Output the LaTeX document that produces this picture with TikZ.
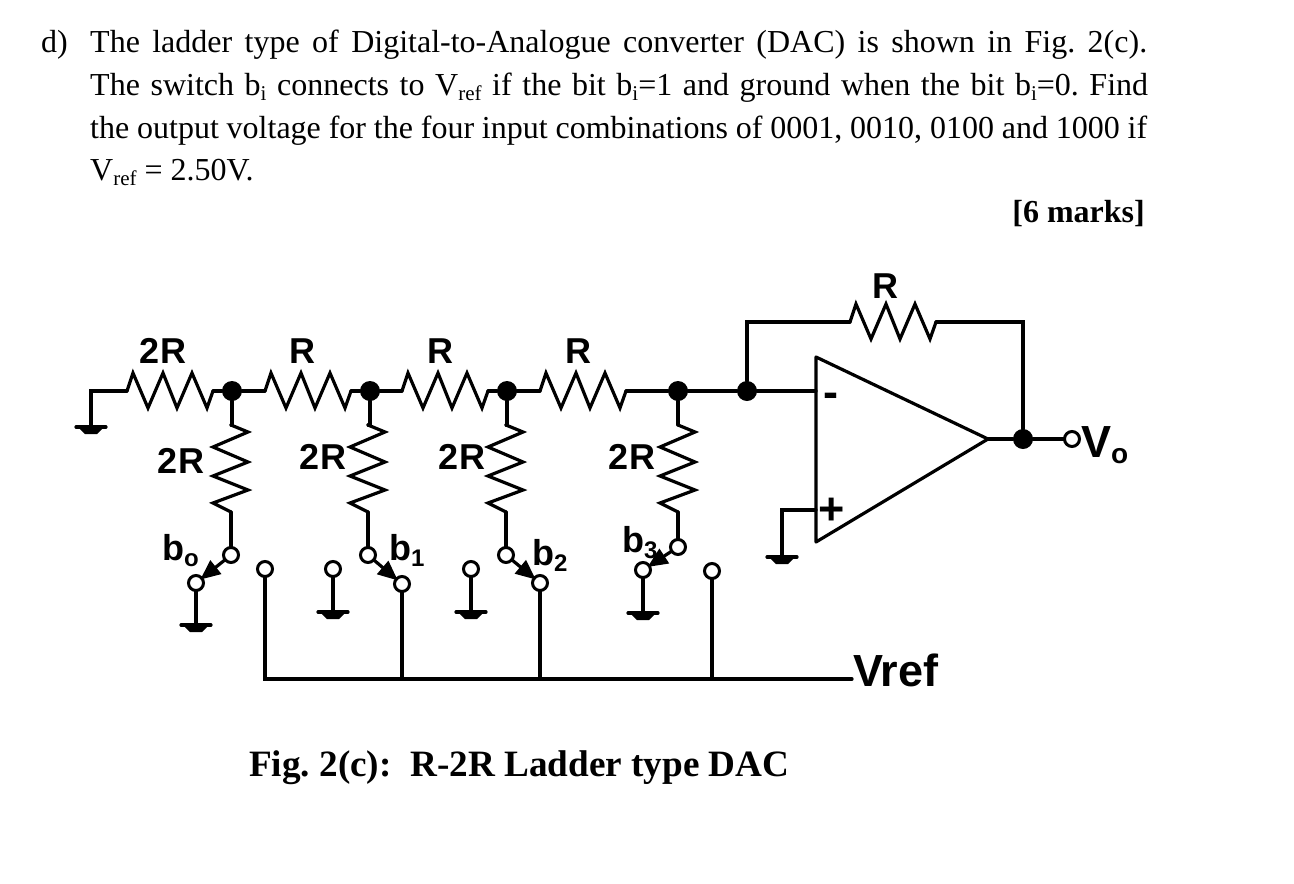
\documentclass[tikz,border=0pt]{standalone}
\usepackage{fontspec}
\setmainfont{Liberation Serif}
\newfontfamily\labfont{Liberation Sans}
\usetikzlibrary{arrows.meta}
\frenchspacing
\newcommand\subtxt[1]{\raisebox{-5pt}{\fontsize{21}{21}\selectfont #1}}
\newcommand\lsub[1]{\raisebox{-6pt}{\fontsize{24}{24}\selectfont #1}}
\tikzset{
  wire/.style={line width=3.2pt,line join=miter,line cap=round},
  dotnode/.style={circle,fill=black,inner sep=0pt,minimum size=20pt,outer sep=0pt},
  termnode/.style={circle,draw=black,fill=white,line width=3pt,inner sep=0pt,minimum size=15pt,outer sep=0pt},
  swarrow/.style={line width=3.2pt,shorten >=-2pt,-{Triangle[length=20pt,width=17pt]}},
  lab/.style={font=\labfont\bfseries\fontsize{36}{36}\selectfont,inner sep=0pt,text=black},
  biglab/.style={font=\labfont\bfseries\fontsize{45}{45}\selectfont,inner sep=0pt,text=black},
  body/.style={font=\fontsize{32}{32}\selectfont,inner sep=0pt,anchor=base west,text=black},
  capt/.style={font=\bfseries\fontsize{37.2}{37.2}\selectfont,inner sep=0pt,anchor=base west,text=black},
  hres/.pic={\draw[wire] (0,0) coordinate (-a) -- (6,-18) -- (21,17) -- (36,-18) -- (50,17) -- (65,-18) -- (80,17) -- (86,0) coordinate (-b);},
  vres/.pic={\draw[wire] (0,0) coordinate (-a) -- (17,7) -- (-18,22) -- (17,37) -- (-18,51) -- (17,65) -- (-18,78) -- (0,87) coordinate (-b);},
  gnd/.pic={\draw[wire] (-15,0) -- (15,0); \fill (-13,0) -- (13,0) -- (6,7) -- (-6,7) -- cycle; \coordinate (-t) at (0,0);}
}
\begin{document}
\begin{tikzpicture}[x=1pt,y=-1pt]
\useasboundingbox (0,0) rectangle (1294,884);
\fill[white] (0,0) rectangle (1294,884);

% question text
\node[body] (dlab) at (41,52) {d)};
\node[body] (l1) at (90,52) {\makebox[1057pt][s]{The ladder type of Digital-to-Analogue converter (DAC) is shown in Fig. 2(c).}};
\node[body] (l2) at (90,95) {\makebox[1058pt][s]{The switch b\subtxt{i} connects to V\subtxt{ref} if the bit b\subtxt{i}=1 and ground when the bit b\subtxt{i}=0. Find}};
\node[body] (l3) at (90,138) {\makebox[1057pt][s]{the output voltage for the four input combinations of 0001, 0010, 0100 and 1000 if}};
\node[body] (l4) at (90,180) {V\subtxt{ref} = 2.50V.};
\node[body,anchor=base east,font=\bfseries\fontsize{32}{32}\selectfont] (marks) at (1145,222) {[6 marks]};
\node[capt] (caption) at (249,776) {Fig. 2(c):\ \ R-2R Ladder type DAC};

% horizontal ladder
\pic (rh0) at (127,391) {hres};
\pic (rh1) at (265,391) {hres};
\pic (rh2) at (402,391) {hres};
\pic (rh3) at (540,391) {hres};
\pic (rf) at (850,322) {hres};
\node[dotnode] (j0) at (232,391) {};
\node[dotnode] (j1) at (370,391) {};
\node[dotnode] (j2) at (507,391) {};
\node[dotnode] (j3) at (678,391) {};
\node[dotnode] (j4) at (747,391) {};
\node[dotnode] (jo) at (1023,439) {};
\pic (g0) at (91,427) {gnd};
\draw[wire] (g0-t) |- (rh0-a);
\draw[wire] (rh0-b) -- (j0) -- (rh1-a);
\draw[wire] (rh1-b) -- (j1) -- (rh2-a);
\draw[wire] (rh2-b) -- (j2) -- (rh3-a);
\draw[wire] (rh3-b) -- (j3) -- (j4);

% vertical legs
\pic (rv0) at (231,425) {vres};
\pic (rv1) at (368,425) {vres};
\pic (rv2) at (506,425) {vres};
\pic (rv3) at (678,425) {vres};
\draw[wire] (j0) -- (j0 |- rv0-a) -- (rv0-a);
\draw[wire] (j1) -- (j1 |- rv1-a) -- (rv1-a);
\draw[wire] (j2) -- (j2 |- rv2-a) -- (rv2-a);
\draw[wire] (j3) -- (rv3-a);

% switch terminals
\node[termnode] (c0) at (231,555) {};
\node[termnode] (c1) at (368,555) {};
\node[termnode] (c2) at (506,555) {};
\node[termnode] (c3) at (678,547) {};
\node[termnode] (s0) at (196,583) {};
\node[termnode] (s1) at (333,569) {};
\node[termnode] (s2) at (471,569) {};
\node[termnode] (s3) at (643,570) {};
\node[termnode] (v0) at (265,569) {};
\node[termnode] (v1) at (402,584) {};
\node[termnode] (v2) at (540,583) {};
\node[termnode] (v3) at (712,571) {};
\draw[wire] (rv0-b) -- (c0);
\draw[wire] (rv1-b) -- (c1);
\draw[wire] (rv2-b) -- (c2);
\draw[wire] (rv3-b) -- (c3);
\draw[swarrow] (c0) -- (s0);
\draw[swarrow] (c1) -- (v1);
\draw[swarrow] (c2) -- (v2);
\draw[swarrow] (c3) -- (s3);

% grounds of the switches
\pic (g1) at (196,625) {gnd};
\pic (g2) at (333,612) {gnd};
\pic (g3) at (471,612) {gnd};
\pic (g4) at (643,613) {gnd};
\draw[wire] (s0) -- (g1-t);
\draw[wire] (s1) -- (g2-t);
\draw[wire] (s2) -- (g3-t);
\draw[wire] (s3) -- (g4-t);

% Vref bus
\coordinate (busr) at (852,679);
\draw[wire] (v0) |- (busr);
\draw[wire] (v1) -- (v1 |- busr);
\draw[wire] (v2) -- (v2 |- busr);
\draw[wire] (v3) -- (v3 |- busr);

% op-amp
\coordinate (oa) at (816,357);
\coordinate (ob) at (816,542);
\coordinate (oc) at (988,439);
\coordinate (opos) at (816,510);
\draw[wire,line join=round] (oa) -- (oc) -- (ob) -- cycle;
\draw[wire] (j4) -- (j4 -| oa);
\draw[wire] (j4) |- (rf-a);
\draw[wire] (rf-b) -| (jo);
\draw[wire] (oc) -- (jo);
\pic (g5) at (782,557) {gnd};
\draw[wire] (g5-t) |- (opos);
\node[termnode] (vo) at (1072,439) {};
\draw[wire] (jo) -- (vo);
\node[biglab,anchor=base] (minus) at (831,407) {-};
\node[biglab,anchor=base] (plus) at (832,524) {+};

% labels
\node[lab,anchor=base] (t2r) at (163,363) {2R};
\node[lab,anchor=base] (t1) at (302,363) {R};
\node[lab,anchor=base] (t2) at (440,363) {R};
\node[lab,anchor=base] (t3) at (578,363) {R};
\node[lab,anchor=base] (tf) at (885,298) {R};
\node[lab,anchor=base] (s2r0) at (181,473) {2R};
\node[lab,anchor=base] (s2r1) at (323,469) {2R};
\node[lab,anchor=base] (s2r2) at (462,469) {2R};
\node[lab,anchor=base] (s2r3) at (632,469) {2R};
\node[lab,anchor=base west] (b0) at (162,560) {b\lsub{o}};
\node[lab,anchor=base west] (b1) at (389,560) {b\lsub{1}};
\node[lab,anchor=base west] (b2) at (532,565) {b\lsub{2}};
\node[lab,anchor=base west] (b3) at (622,552) {b\lsub{3}};
\node[biglab,anchor=base west] (volab) at (1081,457) {V\raisebox{-6pt}{\fontsize{28}{28}\selectfont o}};
\node[biglab,anchor=base west] (vreflab) at (853,686) {Vref};
\end{tikzpicture}
\end{document}
